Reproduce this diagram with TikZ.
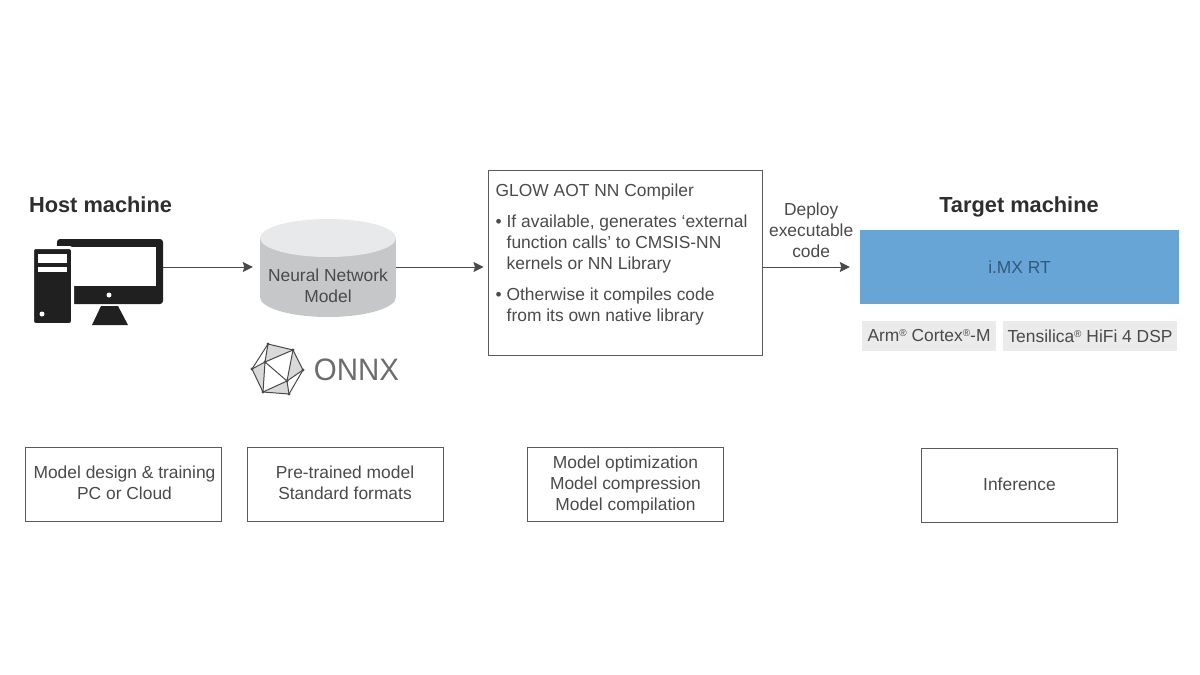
\documentclass[tikz,border=0pt]{standalone}
\usepackage{fontspec}
\setmainfont{Liberation Sans}
\usetikzlibrary{positioning,arrows.meta}

\definecolor{inkgray}{HTML}{4A4A4A}
\definecolor{headgray}{HTML}{2E2E2E}
\definecolor{edgegray}{HTML}{5A5A5A}
\definecolor{imxblue}{HTML}{66A5D6}
\definecolor{imxtext}{HTML}{35597A}
\definecolor{chipgray}{HTML}{EBEBEB}
\definecolor{pcblack}{HTML}{202020}
\definecolor{drumside}{HTML}{C5C7C9}
\definecolor{drumtop}{HTML}{E8E9EB}
\newcommand{\regmark}{\raisebox{5pt}{\fontsize{10}{10}\selectfont ®}}

\begin{document}
\begin{tikzpicture}[
    x=1pt, y=-1pt,
    font=\fontsize{17.4}{21}\selectfont,
    text=inkgray,
    taskbox/.style={rectangle, draw=edgegray, line width=1pt, minimum width=196pt, minimum height=74pt, align=center, inner sep=0pt},
    tasktext/.style={align=center, inner sep=0pt},
    heading/.style={font=\fontsize{21.8}{26}\selectfont\bfseries, text=headgray, inner sep=0pt, anchor=base},
    chipbox/.style={rectangle, fill=chipgray, minimum height=30pt, inner sep=0pt},
    pcpart/.style={rectangle, fill=pcblack, rounded corners=3pt, inner sep=0pt},
    pcslot/.style={rectangle, fill=white, inner sep=0pt},
    pcdot/.style={circle, fill=white, minimum size=5pt, inner sep=0pt},
    hedge/.style={draw=inkgray, line width=1pt, line join=round},
    flow/.style={-{Stealth[length=10pt,width=10pt,inset=1.5pt]}, draw=inkgray, line width=1pt}
]
\useasboundingbox (0,0) rectangle (1200,675);

% host machine
\node[heading] (hosttitle) at (100.5,212.5) {Host machine};
\node[pcpart, minimum width=106pt, minimum height=65pt] (monitor) at (110,271.5) {};
\node[pcslot, minimum width=106pt, minimum height=39pt] (screen) at (103,266.5) {};
\node[pcdot] (powerdot) at (109,295) {};
\fill[pcblack] (101,306) -- (118,306) -- (128,325) -- (92,325) -- cycle;
\node[pcpart, draw=white, line width=3pt, minimum width=40pt, minimum height=77pt] (tower) at (52.5,286) {};
\node[pcslot, minimum width=29pt, minimum height=9pt] (slotone) at (52.5,258.5) {};
\node[pcslot, minimum width=29pt, minimum height=5pt] (slottwo) at (52.5,269.5) {};
\node[pcdot] (towerdot) at (42,314) {};

% model
\fill[drumside] (260,238) rectangle (396,297);
\fill[drumside] (328,297) ellipse [x radius=68pt, y radius=20pt];
\fill[drumtop] (328,238) ellipse [x radius=68pt, y radius=19pt];
\node[minimum width=136pt, minimum height=98pt, inner sep=0pt] (model) at (328,267) {};
\node[align=center, inner sep=0pt] (modeltext) at (328,285.5) {Neural Network\\Model};

% onnx logo
\coordinate (o1) at (268,344);
\coordinate (o2) at (293,350);
\coordinate (o3) at (303,370);
\coordinate (o4) at (289,394);
\coordinate (o5) at (263,392);
\coordinate (o6) at (252,369);
\coordinate (o7) at (265,362);
\coordinate (o8) at (287,381);
\fill[gray!30] (o1) -- (o2) -- (o7) -- cycle;
\fill[gray!30] (o2) -- (o3) -- (o8) -- cycle;
\fill[gray!30] (o8) -- (o4) -- (o5) -- cycle;
\fill[gray!30] (o6) -- (o7) -- (o5) -- cycle;
\draw[hedge] (o1) -- (o2) -- (o3) -- (o4) -- (o5) -- (o6) -- cycle;
\draw[hedge] (o6) -- (o7) -- (o1) (o7) -- (o2) -- (o8) -- (o3) (o7) -- (o8) -- (o4) (o8) -- (o5) -- (o7);
\foreach \p in {o1,o2,o3,o4,o5,o6,o7,o8}
    \fill[inkgray] (\p) circle (1.7pt);
\node[font=\fontsize{31}{31}\selectfont, text=gray!85!black, xscale=0.95, inner sep=0pt] (onnx) at (356.5,370) {ONNX};

% compiler
\node[rectangle, draw=edgegray, line width=1pt, minimum width=274pt, minimum height=185pt] (compiler) at (625,262.5) {};
\node[below right=14pt and 8pt of compiler.north west, anchor=north west, align=left, inner sep=0pt] (compilertext) {GLOW AOT NN Compiler\\[10pt]
• If available, generates ‘external\\
\hspace*{11pt}function calls’ to CMSIS-NN\\
\hspace*{11pt}kernels or NN Library\\[10pt]
• Otherwise it compiles code\\
\hspace*{11pt}from its own native library};

% target machine
\node[heading] (targettitle) at (1019,212.5) {Target machine};
\node[rectangle, fill=imxblue, minimum width=319pt, minimum height=74pt, inner sep=0pt, text=imxtext] (target) at (1019.5,267) {i.MX RT};
\node[chipbox, minimum width=134pt] (armchip) at (929,336) {Arm\regmark{} Cortex\regmark-M};
\node[chipbox, minimum width=174pt] (hifichip) at (1090,336) {Tensilica\regmark{} HiFi 4 DSP};

% tasks
\node[taskbox] (designtask) at (123.5,484.5) {};
\node[tasktext] (designtext) at (124.5,482.5) {Model design \& training\\PC or Cloud};
\node[taskbox] (pretrained) at (345,484.5) {};
\node[tasktext] (pretext) at (345,482.5) {Pre-trained model\\Standard formats};
\node[taskbox] (optimize) at (625.5,484.5) {};
\node[tasktext] (opttext) at (625.5,485) {Model optimization\\Model compression\\Model compilation};
\node[taskbox] (inference) at (1019.5,485.5) {};
\node[tasktext] (inftext) at (1019.5,484.5) {Inference};

% connectors
\draw[flow, shorten >=7pt] (monitor.east |- model) -- (model.west);
\draw[flow, shorten >=4pt] (model.east) -- (compiler.west |- model);
\draw[flow, shorten >=10pt] (compiler.east |- model) -- node[above=9pt, align=center, inner sep=0pt] (deploy) {Deploy\\executable\\code} (target.west |- model);
\end{tikzpicture}
\end{document}
